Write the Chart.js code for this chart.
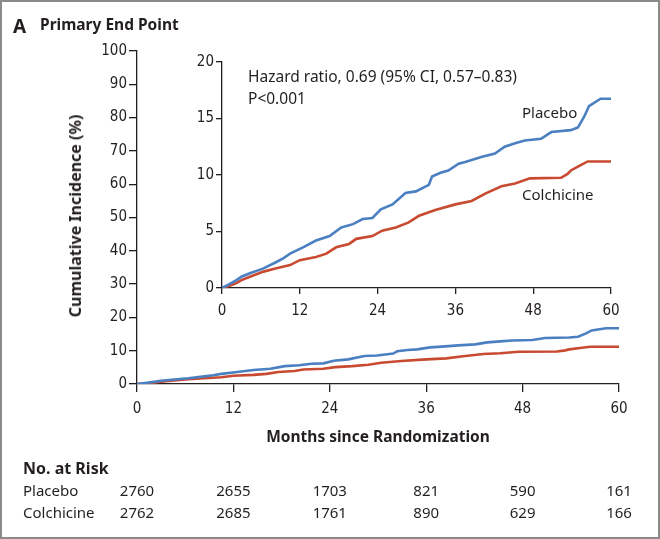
<!DOCTYPE html>
<html>
<head>
<meta charset="utf-8">
<title>Primary End Point</title>
<script src="https://cdn.jsdelivr.net/npm/chart.js@4.4.1/dist/chart.umd.min.js"></script>
<style>
body{margin:0;background:#fff;}
#wrap{position:relative;width:660px;height:539px;box-sizing:border-box;border:2px solid #8a8a8a;overflow:hidden;font-family:"Noto Sans",sans-serif;color:#231f20;}
canvas{position:absolute;left:-2px;top:-2px;}
.t{position:absolute;white-space:nowrap;line-height:1;}
.b{font-weight:bold;}
</style>
</head>
<body>
<div id="wrap">
<canvas id="main" width="660" height="539"></canvas>
<canvas id="inset" width="660" height="539"></canvas>
</div>
<script>
// cumulative incidence curves
var placeboMonths = [0, 1, 2.3, 3, 4.3, 6, 6.4, 8.4, 9.5, 10.5, 12.5, 14.5, 16.6, 18.4, 20.2, 21.7, 23.2, 24.5, 26.3, 28.3, 29.9, 31.9, 32.4, 33.7, 34.9, 36.5, 37.5, 40, 42.1, 43.6, 45.2, 46.7, 49.2, 50.8, 53.8, 54.9, 55.9, 56.6, 58.4, 60];
var placeboPct    = [0, 0.3, 0.72, 1.0, 1.3, 1.65, 1.74, 2.3, 2.65, 3.04, 3.6, 4.2, 4.6, 5.36, 5.65, 6.1, 6.2, 6.96, 7.4, 8.4, 8.55, 9.13, 9.86, 10.2, 10.4, 11.0, 11.16, 11.6, 11.9, 12.5, 12.8, 13.05, 13.2, 13.8, 13.97, 14.2, 15.2, 16.1, 16.75, 16.75];
var colchMonths = [0, 1.2, 2.3, 3, 4.3, 6.4, 8.4, 10.5, 12, 14.5, 16.1, 17.6, 19.6, 20.7, 23.2, 24.7, 26.8, 28.8, 30.4, 32.9, 36, 38.5, 40.6, 43.1, 45.2, 47.5, 52.3, 53.3, 53.8, 55.4, 56.4, 60];
var colchPct    = [0, 0.2, 0.45, 0.7, 1.0, 1.45, 1.74, 2.03, 2.46, 2.75, 3.04, 3.6, 3.9, 4.35, 4.6, 5.07, 5.36, 5.8, 6.4, 6.9, 7.4, 7.7, 8.35, 9.0, 9.25, 9.7, 9.75, 10.1, 10.4, 10.9, 11.2, 11.2];
var xTicks = [0, 12, 24, 36, 48, 60];
var riskGroups = ['Placebo', 'Colchicine'];
var riskPlacebo = [2760, 2655, 1703, 821, 590, 161];
var riskColchicine = [2762, 2685, 1761, 890, 629, 166];

var blue = '#4a7fc1', red = '#c84b31', ink = '#231f20';
var tickFont = {family: '"Liberation Sans Narrow","DejaVu Sans Condensed",sans-serif', size: 15};

function pts(xs, ys){
  var out = [];
  for (var i = 0; i < xs.length; i++) out.push({x: xs[i], y: ys[i]});
  return out;
}

function makeChart(id, ymax, ystep, pad, yw, xh, tl){
  return new Chart(document.getElementById(id), {
    type: 'line',
    data: {datasets: [
      {data: pts(placeboMonths, placeboPct), borderColor: blue, borderWidth: 2.6, pointRadius: 0, tension: 0, fill: false},
      {data: pts(colchMonths, colchPct), borderColor: red, borderWidth: 2.6, pointRadius: 0, tension: 0, fill: false}
    ]},
    options: {
      responsive: false, animation: false, events: [],
      layout: {padding: pad},
      plugins: {legend: {display: false}, tooltip: {enabled: false}},
      scales: {
        x: {type: 'linear', min: 0, max: 60,
          afterBuildTicks: function(s){ s.ticks = xTicks.map(function(v){ return {value: v}; }); },
          afterFit: function(s){ s.height = xh; },
          grid: {drawOnChartArea: false, color: ink, lineWidth: 1.3, tickLength: tl},
          border: {color: ink, width: 1.3},
          ticks: {font: tickFont, color: ink, padding: 8, maxRotation: 0}},
        y: {min: 0, max: ymax,
          afterFit: function(s){ s.width = yw; },
          grid: {drawOnChartArea: false, color: ink, lineWidth: 1.3, tickLength: tl},
          border: {color: ink, width: 1.3},
          ticks: {stepSize: ystep, font: tickFont, color: ink, padding: 2}}
      }
    }
  });
}

var mainChart = makeChart('main', 100, 10, {left: 97, top: 51, right: 41, bottom: 123}, 40, 32, 8);
var insetChart = makeChart('inset', 20, 5, {left: 192, top: 62, right: 49, bottom: 221}, 30, 30, 6);

var wrap = document.getElementById('wrap');
function label(text, x, y, size, cls, center){
  var d = document.createElement('div');
  d.className = 't ' + (cls || '');
  d.textContent = text;
  d.style.fontSize = size + 'px';
  d.style.left = (x - 2) + 'px';
  d.style.top = (y - 2) + 'px';
  d.style.transform = center ? 'translate(-50%,-50%)' : 'translate(0,-50%)';
  wrap.appendChild(d);
  return d;
}

label('A', 13, 26, 19, 'b');
label('Primary End Point', 40, 25, 15.5, 'b');
var yt = label('Cumulative Incidence (%)', 75, 216, 16, 'b', true);
yt.style.transform = 'translate(-50%,-50%) rotate(-90deg)';
label('Months since Randomization', 378, 437, 15.5, 'b', true);
label('Hazard ratio, 0.69 (95% CI, 0.57\u20130.83)', 248, 77, 15.5);
label('P<0.001', 248, 99, 15.5);
label('Placebo', 522, 112, 15);
label('Colchicine', 522, 194, 15);

label('No. at Risk', 23, 468, 16, 'b');
var rows = [riskPlacebo, riskColchicine];
for (var r = 0; r < rows.length; r++){
  var yy = 490 + r * 22;
  label(riskGroups[r], 23, yy, 15);
  for (var i = 0; i < xTicks.length; i++){
    var px = mainChart.scales.x.getPixelForValue(xTicks[i]);
    label(String(rows[r][i]), px, yy, 15, '', true);
  }
}
</script>
</body>
</html>
